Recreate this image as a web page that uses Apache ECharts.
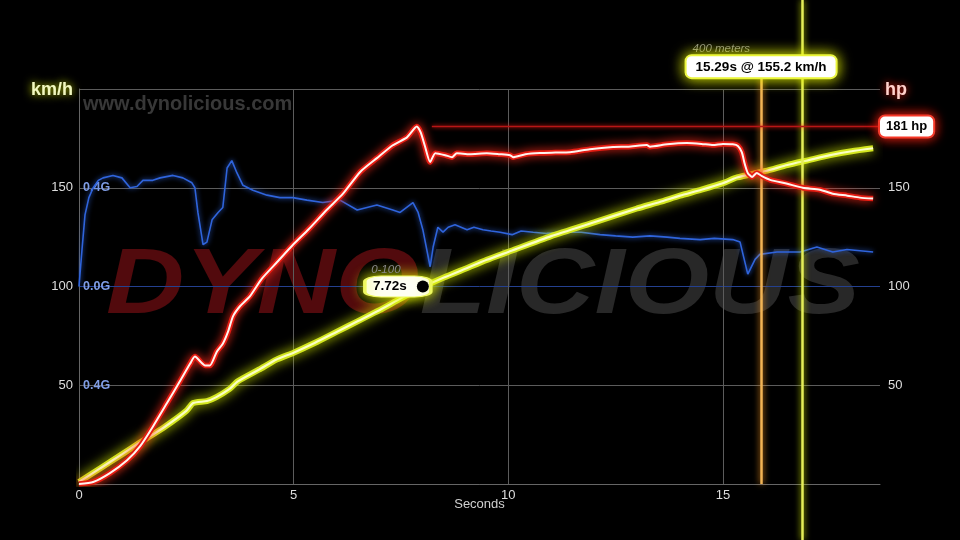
<!DOCTYPE html>
<html><head><meta charset="utf-8">
<script src="https://cdn.jsdelivr.net/npm/echarts@6/dist/echarts.min.js"></script>
<style>html,body{margin:0;padding:0;background:#000}#c{width:960px;height:540px}</style>
</head><body><div id="c"></div>
<script>
// ---- data ----
const speedT   = [0,0.5,1,1.42,2,2.5,2.66,2.98,3.2,3.5,3.7,4.2,4.6,5,5.5,6,6.5,7,7.5,8.01,8.5,9,9.5,10,11,12,13,13.53,14,14.5,15,15.33,16,16.5,17,17.5,18,18.5];
const speedKmh = [1,8,15,21,29,37,41,42,44,48,52,58,63,66.5,71.5,77,82.5,88,94,99.7,104.5,109,113.5,117.5,125.5,132.5,139.5,142.8,146,149,152.3,155.2,158.5,161.5,164,166.5,168.5,170];

const powerT  = [0,0.33,0.72,1.12,1.42,1.72,2.05,2.35,2.59,2.7,2.94,3.05,3.21,3.35,3.47,3.59,3.75,3.98,4.26,4.6,4.98,5.35,5.78,6.15,6.55,6.94,7.31,7.64,7.87,7.96,8.06,8.18,8.3,8.53,8.69,8.8,9.1,9.5,9.8,10.04,10.11,10.4,10.74,11.1,11.44,11.9,12.44,12.8,13.23,13.3,13.7,14.16,14.5,14.77,15.0,15.23,15.35,15.44,15.51,15.58,15.68,15.79,15.9,16.1,16.5,16.86,17.26,17.56,17.9,18.19,18.5];
const powerHp = [0,1,5.5,12,19,29,41,52,61,64.5,60,60,67,71,77,85,90,95,104,112,121,129,139,147,158,165,171.5,175.5,181,178,171,163,167.5,166.5,165.5,167.5,167,167.5,167,166.5,165.5,167,167.6,167.8,168,169.5,170.6,170.8,171.6,170.8,172,172.6,172.2,171.6,172.2,172,171.2,168,162,157.5,155.5,157.5,156,154,152,150,149,147,146,145,144.5];

const gT   = [0,0.07,0.14,0.23,0.33,0.45,0.56,0.79,1.0,1.19,1.35,1.49,1.72,1.89,2.19,2.42,2.63,2.7,2.77,2.89,2.98,3.1,3.24,3.35,3.45,3.56,3.68,3.82,4.05,4.38,4.68,4.98,5.31,5.68,6.08,6.48,6.94,7.31,7.48,7.78,7.9,8.01,8.18,8.25,8.36,8.48,8.6,8.76,9.04,9.2,9.41,9.6,9.81,10.09,10.3,10.58,10.9,11.37,11.7,12.14,12.5,12.9,13.3,13.7,14.0,14.47,14.8,15.23,15.4,15.58,15.75,15.86,16.26,16.8,17.19,17.56,17.89,18.5];
const gVal = [0.0,0.15,0.29,0.36,0.40,0.43,0.44,0.45,0.44,0.40,0.405,0.43,0.43,0.44,0.45,0.44,0.42,0.40,0.30,0.17,0.18,0.27,0.30,0.32,0.48,0.51,0.46,0.41,0.39,0.37,0.36,0.36,0.35,0.34,0.35,0.31,0.33,0.31,0.30,0.34,0.30,0.23,0.08,0.16,0.24,0.22,0.24,0.25,0.23,0.24,0.23,0.225,0.22,0.21,0.225,0.22,0.215,0.22,0.22,0.21,0.205,0.20,0.205,0.20,0.195,0.19,0.195,0.19,0.18,0.05,0.11,0.13,0.14,0.14,0.16,0.14,0.15,0.14];

const xTicks = [0,5,10,15];
const speedTicks = [50,100,150];
const hpTicks = [50,100,150];

const zeroTo100 = { t: 8.01, kmh: 100, text: '7.72s', caption: '0-100' };
const quarterMile = { t: 15.89, topKmh: 206, text: '15.29s @ 155.2 km/h', caption: '400 meters' };
const finishT = 16.84;
const peakHp = { t: 8.22, hp: 181, text: '181 hp' };

// ---- chart ----
const FONT = '"Liberation Sans", Arial, Helvetica, sans-serif';
const zip = (a, b) => a.map((t, i) => [t, b[i]]);
const X_MAX = 18.66;
const W = 960, H = 540, G_TOP = 89, G_BOTTOM = 56, G_LEFT = 79, G_RIGHT = 80;
const pxPerUnit = (H - G_TOP - G_BOTTOM) / 200;
const fullMin = -G_BOTTOM / pxPerUnit, fullMax = 200 + G_TOP / pxPerUnit;

const chart = echarts.init(document.getElementById('c'), null, { renderer: 'canvas' });
const option = {
  backgroundColor: '#000',
  animation: false,
  textStyle: { fontFamily: FONT },
  grid: [
    { left: G_LEFT, right: G_RIGHT, top: G_TOP, bottom: G_BOTTOM, containLabel: false },
    { left: G_LEFT, right: G_RIGHT, top: 0, bottom: 0, containLabel: false }
  ],
  xAxis: [{
    type: 'value', gridIndex: 0, min: 0, max: X_MAX, interval: 5,
    axisLine: { lineStyle: { color: '#666', width: 1 } },
    axisTick: { show: false },
    axisLabel: { color: '#ddd', fontSize: 13, fontFamily: FONT, margin: 5,
      formatter: v => xTicks.indexOf(v) >= 0 ? String(v) : '' },
    splitLine: { show: true, showMaxLine: false, showMinLine: false, lineStyle: { color: '#5c5c5c' } },
    name: 'Seconds', nameLocation: 'middle', nameGap: 14, nameMoveOverlap: false,
    nameTextStyle: { color: '#d0d0d0', fontSize: 13, fontFamily: FONT }
  }, {
    type: 'value', gridIndex: 1, min: 0, max: X_MAX, show: false
  }],
  yAxis: [
    { type: 'value', gridIndex: 0, min: 0, max: 200, interval: 50, position: 'left',
      axisLine: { show: true, lineStyle: { color: '#666' } }, axisTick: { show: false },
      axisLabel: { color: '#ddd', fontSize: 13, fontFamily: FONT, margin: 6,
        formatter: v => speedTicks.indexOf(v) >= 0 ? String(v) : '' },
      splitLine: { show: true, lineStyle: { color: ['#5c5c5c', '#5c5c5c', '#24408f', '#5c5c5c', '#5c5c5c'] } } },
    { type: 'value', gridIndex: 0, min: 0, max: 200, interval: 50, position: 'right',
      axisLine: { show: false }, axisTick: { show: false },
      axisLabel: { color: '#ddd', fontSize: 13, fontFamily: FONT, margin: 8,
        formatter: v => hpTicks.indexOf(v) >= 0 ? String(v) : '' },
      splitLine: { show: false } },
    { type: 'value', gridIndex: 0, min: -0.8, max: 0.8, interval: 0.4, position: 'left',
      axisLine: { show: false }, axisTick: { show: false },
      axisLabel: { inside: true, color: '#809ee6', fontSize: 12.5, fontWeight: 'bold', fontFamily: FONT, margin: 4,
        formatter: v => Math.abs(v) < 1e-6 ? '0.0G' : (Math.abs(Math.abs(v) - 0.4) < 1e-6 ? '0.4G' : '') },
      splitLine: { show: false } },
    { type: 'value', gridIndex: 1, min: fullMin, max: fullMax, show: false }
  ],
  graphic: [
    { type: 'text', x: 106, y: 288, z: -5, scaleX: 1.18,
      style: { text: '{a|DYNO}{b|LICIOUS}', verticalAlign: 'middle', align: 'left',
        rich: {
          a: { fill: '#520a0d', fontSize: 92, fontWeight: 'bold', fontStyle: 'italic', fontFamily: FONT },
          b: { fill: '#282828', fontSize: 92, fontWeight: 'bold', fontStyle: 'italic', fontFamily: FONT }
        } } },
    { type: 'text', x: 83, y: 104, z: -4,
      style: { text: 'www.dynolicious.com', fill: '#383838', fontSize: 20, fontWeight: 'bold', fontFamily: FONT, verticalAlign: 'middle' } },
    { type: 'text', x: 31, y: 90, z: 10,
      style: { text: 'km/h', fill: '#f2f8c0', fontSize: 18, fontWeight: 'bold', fontFamily: FONT, verticalAlign: 'middle',
        textShadowColor: '#cfe000', textShadowBlur: 8 } },
    { type: 'text', x: 885, y: 90, z: 10,
      style: { text: 'hp', fill: '#ffd2cc', fontSize: 18, fontWeight: 'bold', fontFamily: FONT, verticalAlign: 'middle',
        textShadowColor: '#ff2010', textShadowBlur: 8 } }
  ],
  series: [
    { name: 'G', type: 'line', xAxisIndex: 0, yAxisIndex: 2, data: zip(gT, gVal), showSymbol: false, z: 2,
      lineStyle: { color: '#2f64dc', width: 1.6, shadowColor: '#2f64dc', shadowBlur: 5 } },
    { name: 'markers', type: 'line', xAxisIndex: 1, yAxisIndex: 3, data: [], z: 3,
      markLine: { symbol: ['none', 'none'], silent: true, animation: false,
        data: [
          [ { xAxis: quarterMile.t, yAxis: 0,
              lineStyle: { color: '#f2b455', width: 2.5, type: 'solid', shadowColor: '#ff9a20', shadowBlur: 6 },
              label: { show: true, position: 'end', distance: 0,
                formatter: '{m|' + quarterMile.caption + '}\n{b|' + quarterMile.text + '}',
                rich: {
                  m: { color: '#8a8a8a', fontStyle: 'italic', fontSize: 11.5, fontFamily: FONT, align: 'left', padding: [0, 0, 1, 6] },
                  b: { color: '#000', fontWeight: 'bold', fontSize: 13.5, fontFamily: FONT, backgroundColor: '#fff',
                       borderRadius: 5, padding: [4, 9, 3, 9], borderColor: '#eef860', borderWidth: 2,
                       shadowColor: '#e6f400', shadowBlur: 14, align: 'center' }
                } } },
            { xAxis: quarterMile.t, yAxis: quarterMile.topKmh } ],
          [ { xAxis: finishT, yAxis: fullMin,
              lineStyle: { color: '#e4ee58', width: 2.5, type: 'solid', shadowColor: '#d8f000', shadowBlur: 6 },
              label: { show: false } },
            { xAxis: finishT, yAxis: fullMax } ]
        ] } },
    { name: 'km/h glow', type: 'line', yAxisIndex: 0, data: zip(speedT, speedKmh), showSymbol: false, smooth: 0.2, z: 3,
      lineStyle: { color: '#d3e61e', width: 6, shadowColor: '#d8f000', shadowBlur: 12 } },
    { name: 'km/h', type: 'line', yAxisIndex: 0, data: zip(speedT, speedKmh), showSymbol: false, smooth: 0.2, z: 4,
      lineStyle: { color: '#fbffc4', width: 2.2 },
      markPoint: { silent: true, animation: false,
        data: [
          { coord: [zeroTo100.t, zeroTo100.kmh], symbol: 'roundRect', symbolSize: [66, 21], symbolOffset: [-25, 0],
            itemStyle: { color: '#fff', borderColor: '#eef860', borderWidth: 2, shadowColor: '#e6f600', shadowBlur: 14 },
            label: { show: true, position: 'inside', formatter: zeroTo100.text, offset: [-8, 0],
              color: '#000', fontWeight: 'bold', fontSize: 13.5, fontFamily: FONT } },
          { coord: [zeroTo100.t, zeroTo100.kmh], symbol: 'circle', symbolSize: 12,
            itemStyle: { color: '#000' }, label: { show: false } },
          { coord: [zeroTo100.t, zeroTo100.kmh], symbol: 'circle', symbolSize: 0,
            label: { show: true, position: 'inside', formatter: zeroTo100.caption, offset: [-37, -17],
              color: '#8a8a8a', fontStyle: 'italic', fontSize: 11.5, fontFamily: FONT } }
        ] } },
    { name: 'hp glow', type: 'line', yAxisIndex: 1, data: zip(powerT, powerHp), showSymbol: false, smooth: 0.2, z: 5,
      lineStyle: { color: '#e41c12', width: 5.5, shadowColor: '#ff2a1a', shadowBlur: 10 },
      markLine: { symbol: ['none', 'none'], silent: true, animation: false,
        data: [
          [ { xAxis: peakHp.t, yAxis: peakHp.hp,
              lineStyle: { color: '#b81616', width: 1.3, type: 'solid', shadowColor: '#ff1a10', shadowBlur: 4 },
              label: { show: true, position: 'end', distance: 0, formatter: peakHp.text,
                color: '#000', fontWeight: 'bold', fontSize: 13, fontFamily: FONT, backgroundColor: '#fff',
                borderRadius: 5, padding: [4, 6, 3, 6], borderColor: '#f04a3a', borderWidth: 2,
                shadowColor: '#ff2010', shadowBlur: 12 } },
            { xAxis: X_MAX, yAxis: peakHp.hp } ]
        ] } },
    { name: 'hp', type: 'line', yAxisIndex: 1, data: zip(powerT, powerHp), showSymbol: false, smooth: 0.2, z: 6,
      lineStyle: { color: '#fff3ee', width: 2 } }
  ]
};
chart.setOption(option);
</script>
</body></html>
